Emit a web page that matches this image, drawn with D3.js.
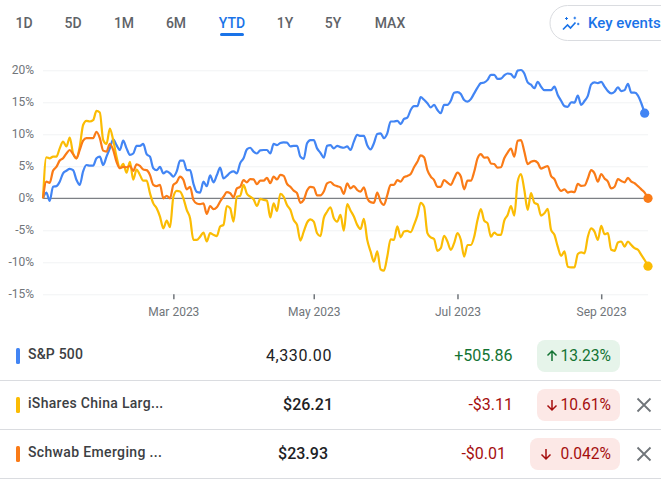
<!DOCTYPE html>
<html>
<head>
<meta charset="utf-8">
<script src="https://cdn.jsdelivr.net/npm/d3@7"></script>
<style>
  html, body { margin: 0; background: #fff; overflow: hidden; }
  text { font-family: Roboto, sans-serif; }
</style>
</head>
<body>
<svg id="chart" width="661" height="481"></svg>
<script>
// % change since the start of the year, one value per trading session
const sp500 = [0,.9,-.4,1.8,1.9,2.6,3.9,4.3,4.6,4.4,2.9,2.1,4.2,5.2,5.1,5.1,6.25,6.5,5.2,6.5,7.8,9.2,8.3,7.55,9,7.8,6.8,7,8.2,8.2,8.5,6.9,6.5,4.7,4.4,4.9,3.9,4.2,3.9,3.4,4.2,5.9,5.9,4.4,4.4,2.3,1,.9,2.6,1.9,3.6,2.5,3.6,4.8,
  3.1,3.5,4,4.2,3.9,5.5,6.25,7.65,7.9,7.3,7,7.5,7.55,7.55,7,8.5,8.3,8.65,8.75,8.7,8.1,8.2,8.2,6.5,6.15,8.6,9.1,9.1,7.8,7.1,6.35,8.2,8.3,7.8,8.2,8,7.9,8.1,7.55,8.85,9.9,9.75,9.75,8.3,7.65,8.6,10.05,10.15,9.4,10.15,12,12,12.1,11.6,12.4,12.6,13.8,14.4,14.4,15.8,15.4,14.85,14.2,14.6,13.8,13.3,
  14.6,14.6,15.25,16.5,16.6,16.3,15.35,15.1,15.5,16.4,17.3,18,18.1,18.5,19.3,19.3,18.65,18.7,19.2,19.5,19.4,18.85,19.95,20.05,19.5,18.1,17.75,17.2,18.2,17.45,16.9,16.9,16.9,17.45,16.15,15.25,14.4,14.3,15,14.95,16.05,14.6,15.2,16,17.8,18.1,18,18.2,17.45,16.75,16.4,16.65,17.35,16.75,16.9,17.9,16.5,16.5,16.05,14.85,13.3];
const china = [0,6.4,6.25,6.5,6.5,7.8,8.85,8.1,9.5,7,6.25,8.1,11.45,12.1,12,12.2,13.65,13.4,9.1,8.5,10.9,9.1,6.5,4.7,5.4,4,5.7,2.9,4.5,3.65,2.75,2.75,.8,-.8,-1.55,-2.85,-4.7,-3.5,-4.5,.25,1.15,1.05,0,-1.8,-3.1,-6.5,-6.5,-6,-5.35,-6.75,-5.45,-5.7,-5.9,-4.4,
  -4.15,-1.2,-1.55,-3.65,.25,.4,2.1,.7,.25,-.15,-1.2,-.1,-.25,-.35,-3,-.8,-2,.7,.25,-1.05,-1.8,-3.4,-4.15,-6.6,-5.2,-3.8,-3.3,-3.65,-5.45,-5.9,-3.1,-2.1,-1.4,-3.1,-3.65,-2.6,-5.05,-.9,-1.9,-2.85,-4.15,-4.8,-3.2,-6.5,-8.3,-9.9,-8.3,-11.1,-11.3,-9.1,-6.4,-6.5,-4.4,-6.1,-5.2,-5.1,-5.3,-4.15,-2.7,-.7,-1.3,-5.45,-6.1,-6.35,-8.2,-7.8,
  -5.85,-6.75,-8.05,-7,-5.45,-6.5,-9.1,-7.3,-7.3,-6,-3.4,-1.7,-3.5,-3.9,-6,-5.35,-5.7,-5.7,-3.5,-2.6,-1.2,-2.7,2.6,3.8,1.3,-1.8,.8,-.7,-.95,-2.7,-2.35,-1.65,-4.95,-5.7,-7.55,-9,-8.3,-10.7,-10.8,-10.8,-8.7,-8.45,-8.6,-6,-4.7,-5.2,-6.5,-4.3,-5.6,-5.45,-8.05,-8.2,-6.9,-6.75,-7.55,-6.75,-7.3,-7.8,-8.05,-8.85,-9.65,-10.6];
const schwab = [0,2.6,2.4,4.3,4.9,5.9,6.25,7,7.55,6.9,6.25,7.55,9,9.4,9.4,9.4,10.4,9.4,7.45,7.3,8.5,7.55,5.7,4.7,4.9,4.85,5.05,4.3,5.3,5.05,4.5,4.4,3.65,2.1,1.9,2.1,0,.4,0,2.1,2.5,3.4,2.9,1.4,1.8,-.25,-.8,-.9,-.8,-2.45,-1.2,-1.7,-1.4,-.5,
  .25,.95,.8,.15,1.55,1.8,2.85,2.5,3,2.95,2.2,2.75,2.75,3.2,2.35,3.4,2.95,3.65,3.5,2.25,1.8,1.2,.8,-.7,-.25,1.2,1.8,1.7,.45,.45,1.05,2.35,2.55,2.1,1.9,1.7,.7,2.35,1.55,1.9,1.3,1.05,1.7,0,-.6,-.7,.9,-.5,-1.05,.5,2.1,2.1,2.85,2.6,3.3,3.5,3.8,4.85,5.7,6.7,6.4,4.4,3.4,2.85,1.8,1.8,
  2.85,2.45,2.1,3.1,4,3.4,1.4,2.75,2.75,4.15,6.25,6.9,6.35,6.4,5.45,5.35,4.8,4.85,6.25,7.15,7.75,6.5,9,9.1,7.3,5.35,5.7,5.85,5.55,4.65,4.85,5.05,3.5,3,1.8,1.15,1.4,.9,1.05,.95,2.25,1.95,2,3.1,4.4,3.9,2.6,3.8,3.1,2.6,1.55,1.8,3,2.7,2.5,3.2,2.6,2.35,1.9,1.4,.9,0];

const yTicks = [20, 15, 10, 5, 0, -5, -10, -15];
const xTickSessions = [39, 81, 124, 167];
const xTickLabels = ["Mar 2023", "May 2023", "Jul 2023", "Sep 2023"];
const ranges = ["1D", "5D", "1M", "6M", "YTD", "1Y", "5Y", "MAX"];
const rangeCentres = [24, 73, 124, 176, 232, 285, 333, 390];

const names = ["S&P 500", "iShares China Larg...", "Schwab Emerging ..."];
const prices = ["4,330.00", "$26.21", "$23.93"];
const changes = ["+505.86", "-$3.11", "-$0.01"];
const percents = ["13.23%", "10.61%", "0.042%"];

const BLUE = "#4285f4", YELLOW = "#fbbc04", ORANGE = "#fa7b17";
const svg = d3.select("#chart");

// scales: x runs on trading sessions, so weekends take no room
const x = d3.scaleLinear().domain([0, 181]).range([43, 648]);
const y = d3.scaleLinear().domain([-15, 20]).range([294.3, 70.3]);

// gridlines + y labels
const yAxis = svg.append("g")
  .attr("transform", "translate(43,0)")
  .call(d3.axisLeft(y).tickValues(yTicks).tickSize(-605).tickPadding(9).tickFormat(d => d + "%"));
yAxis.select(".domain").remove();
yAxis.selectAll("line").attr("stroke", "#f1f3f4");
yAxis.selectAll("text").attr("fill", "#70757a").attr("dy", "0.28em").style("font-size", "12px");

// x axis
const xAxis = svg.append("g")
  .attr("transform", "translate(0,294.3)")
  .call(d3.axisBottom(x).tickValues(xTickSessions).tickSize(5).tickPadding(8)
    .tickFormat((d, i) => xTickLabels[i]));
xAxis.select(".domain").remove();
xAxis.selectAll("line").attr("stroke", "#70757a").attr("stroke-width", 1.5);
xAxis.selectAll("text").attr("fill", "#70757a").style("font-size", "12px");

// zero line
svg.append("line")
  .attr("x1", x(0)).attr("x2", x(181))
  .attr("y1", y(0)).attr("y2", y(0))
  .attr("stroke", "#5f6368").attr("stroke-width", 1);

const line = d3.line().x((d, i) => x(i)).y(d => y(d)).curve(d3.curveMonotoneX);
const seriesList = [
  { values: sp500, color: BLUE },
  { values: china, color: YELLOW },
  { values: schwab, color: ORANGE }
];

svg.selectAll("path.series")
  .data(seriesList)
  .join("path")
  .attr("class", "series")
  .attr("d", d => line(d.values))
  .attr("fill", "none")
  .attr("stroke", d => d.color)
  .attr("stroke-width", 2.2)
  .attr("stroke-linejoin", "round");

svg.selectAll("circle.end")
  .data(seriesList)
  .join("circle")
  .attr("class", "end")
  .attr("cx", d => x(d.values.length - 1))
  .attr("cy", d => y(d.values[d.values.length - 1]))
  .attr("r", 4.6)
  .attr("fill", d => d.color);

// range tabs
svg.selectAll("text.range")
  .data(ranges)
  .join("text")
  .attr("class", "range")
  .attr("x", (d, i) => rangeCentres[i])
  .attr("y", 28)
  .attr("text-anchor", "middle")
  .attr("fill", d => d === "YTD" ? "#1a73e8" : "#5f6368")
  .style("font-size", "14px")
  .style("font-weight", 500)
  .text(d => d);
svg.append("rect").attr("x", 220).attr("y", 33).attr("width", 24).attr("height", 3)
  .attr("rx", 1.5).attr("fill", "#1a73e8");

// key events button, runs off the right edge
svg.append("rect").attr("x", 550).attr("y", 5.5).attr("width", 140).attr("height", 35)
  .attr("rx", 17.5).attr("fill", "#fff").attr("stroke", "#dadce0");
svg.append("path")
  .attr("d", "M563 29.5l4.5-4.5 3 3 5-5.5")
  .attr("fill", "none").attr("stroke", "#1a73e8").attr("stroke-width", 1.7);
svg.append("path")
  .attr("d", "M565 18.5h3M566.5 17v3M573.5 18h2.6M574.8 16.7v2.6M577 24h2.4M578.2 22.8v2.4")
  .attr("fill", "none").attr("stroke", "#1a73e8").attr("stroke-width", 1);
svg.append("text").attr("x", 588).attr("y", 28).attr("fill", "#1a73e8")
  .style("font-size", "15px").style("font-weight", 500).text("Key events");

// table rows
const rowMid = [356, 405, 454];
const priceRight = [332, 333, 328];
const priceSpacing = [0.6, 0, 0];
const changeRight = [512.5, 513, 506];
const pillLeft = [537, 537, 530];
const arrowX = [552, 552, 546];
const nameSpacing = [0.2, 0.3, 0.35];
const rowColors = [BLUE, YELLOW, ORANGE];
const GREEN = "#137333", RED = "#a50e0e";

rowMid.forEach((mid, i) => {
  const up = i === 0;
  const tone = up ? GREEN : RED;
  const row = svg.append("g");

  row.append("rect").attr("x", 16).attr("y", mid - 8).attr("width", 4).attr("height", 16)
    .attr("rx", 1.5).attr("fill", rowColors[i]);
  row.append("text").attr("x", 28).attr("y", mid + 3).attr("fill", "#3c4043")
    .style("font-size", "14px").style("font-weight", 500).style("letter-spacing", nameSpacing[i] + "px").text(names[i]);
  row.append("text").attr("x", priceRight[i]).attr("y", mid + 5).attr("text-anchor", "end")
    .attr("fill", "#202124")
    .style("font-size", "16px").style("font-weight", i === 0 ? 400 : 500).style("letter-spacing", priceSpacing[i] + "px").text(prices[i]);
  row.append("text").attr("x", changeRight[i]).attr("y", mid + 5).attr("text-anchor", "end")
    .attr("fill", tone).style("font-size", "16px").text(changes[i]);

  row.append("rect").attr("x", pillLeft[i]).attr("y", mid - 16).attr("width", 620 - pillLeft[i]).attr("height", 32)
    .attr("rx", 8).attr("fill", up ? "#e6f4ea" : "#fce8e6");
  row.append("text").attr("x", 611).attr("y", mid + 5).attr("text-anchor", "end")
    .attr("fill", tone).style("font-size", "15.6px").style("font-weight", 400).text(percents[i]);
  // arrow glyph
  const a = up ? -1 : 1;
  row.append("path")
    .attr("d", `M${arrowX[i]} ${mid - 5 * a}V${mid + 5 * a}M${arrowX[i] - 4.5} ${mid + 0.5 * a}L${arrowX[i]} ${mid + 5 * a}L${arrowX[i] + 4.5} ${mid + 0.5 * a}`)
    .attr("fill", "none").attr("stroke", tone).attr("stroke-width", 1.5);

  // row divider
  row.append("line").attr("x1", 0).attr("x2", 661).attr("y1", mid + 24.5).attr("y2", mid + 24.5)
    .attr("stroke", "#dadce0").attr("stroke-width", 1);

  // remove cross, first row has none
  if (i > 0) {
    row.append("path")
      .attr("d", `M${637.5} ${mid - 6.5}l13 13M${650.5} ${mid - 6.5}l-13 13`)
      .attr("stroke", "#70757a").attr("stroke-width", 1.8).attr("fill", "none");
  }
});
</script>
</body>
</html>
